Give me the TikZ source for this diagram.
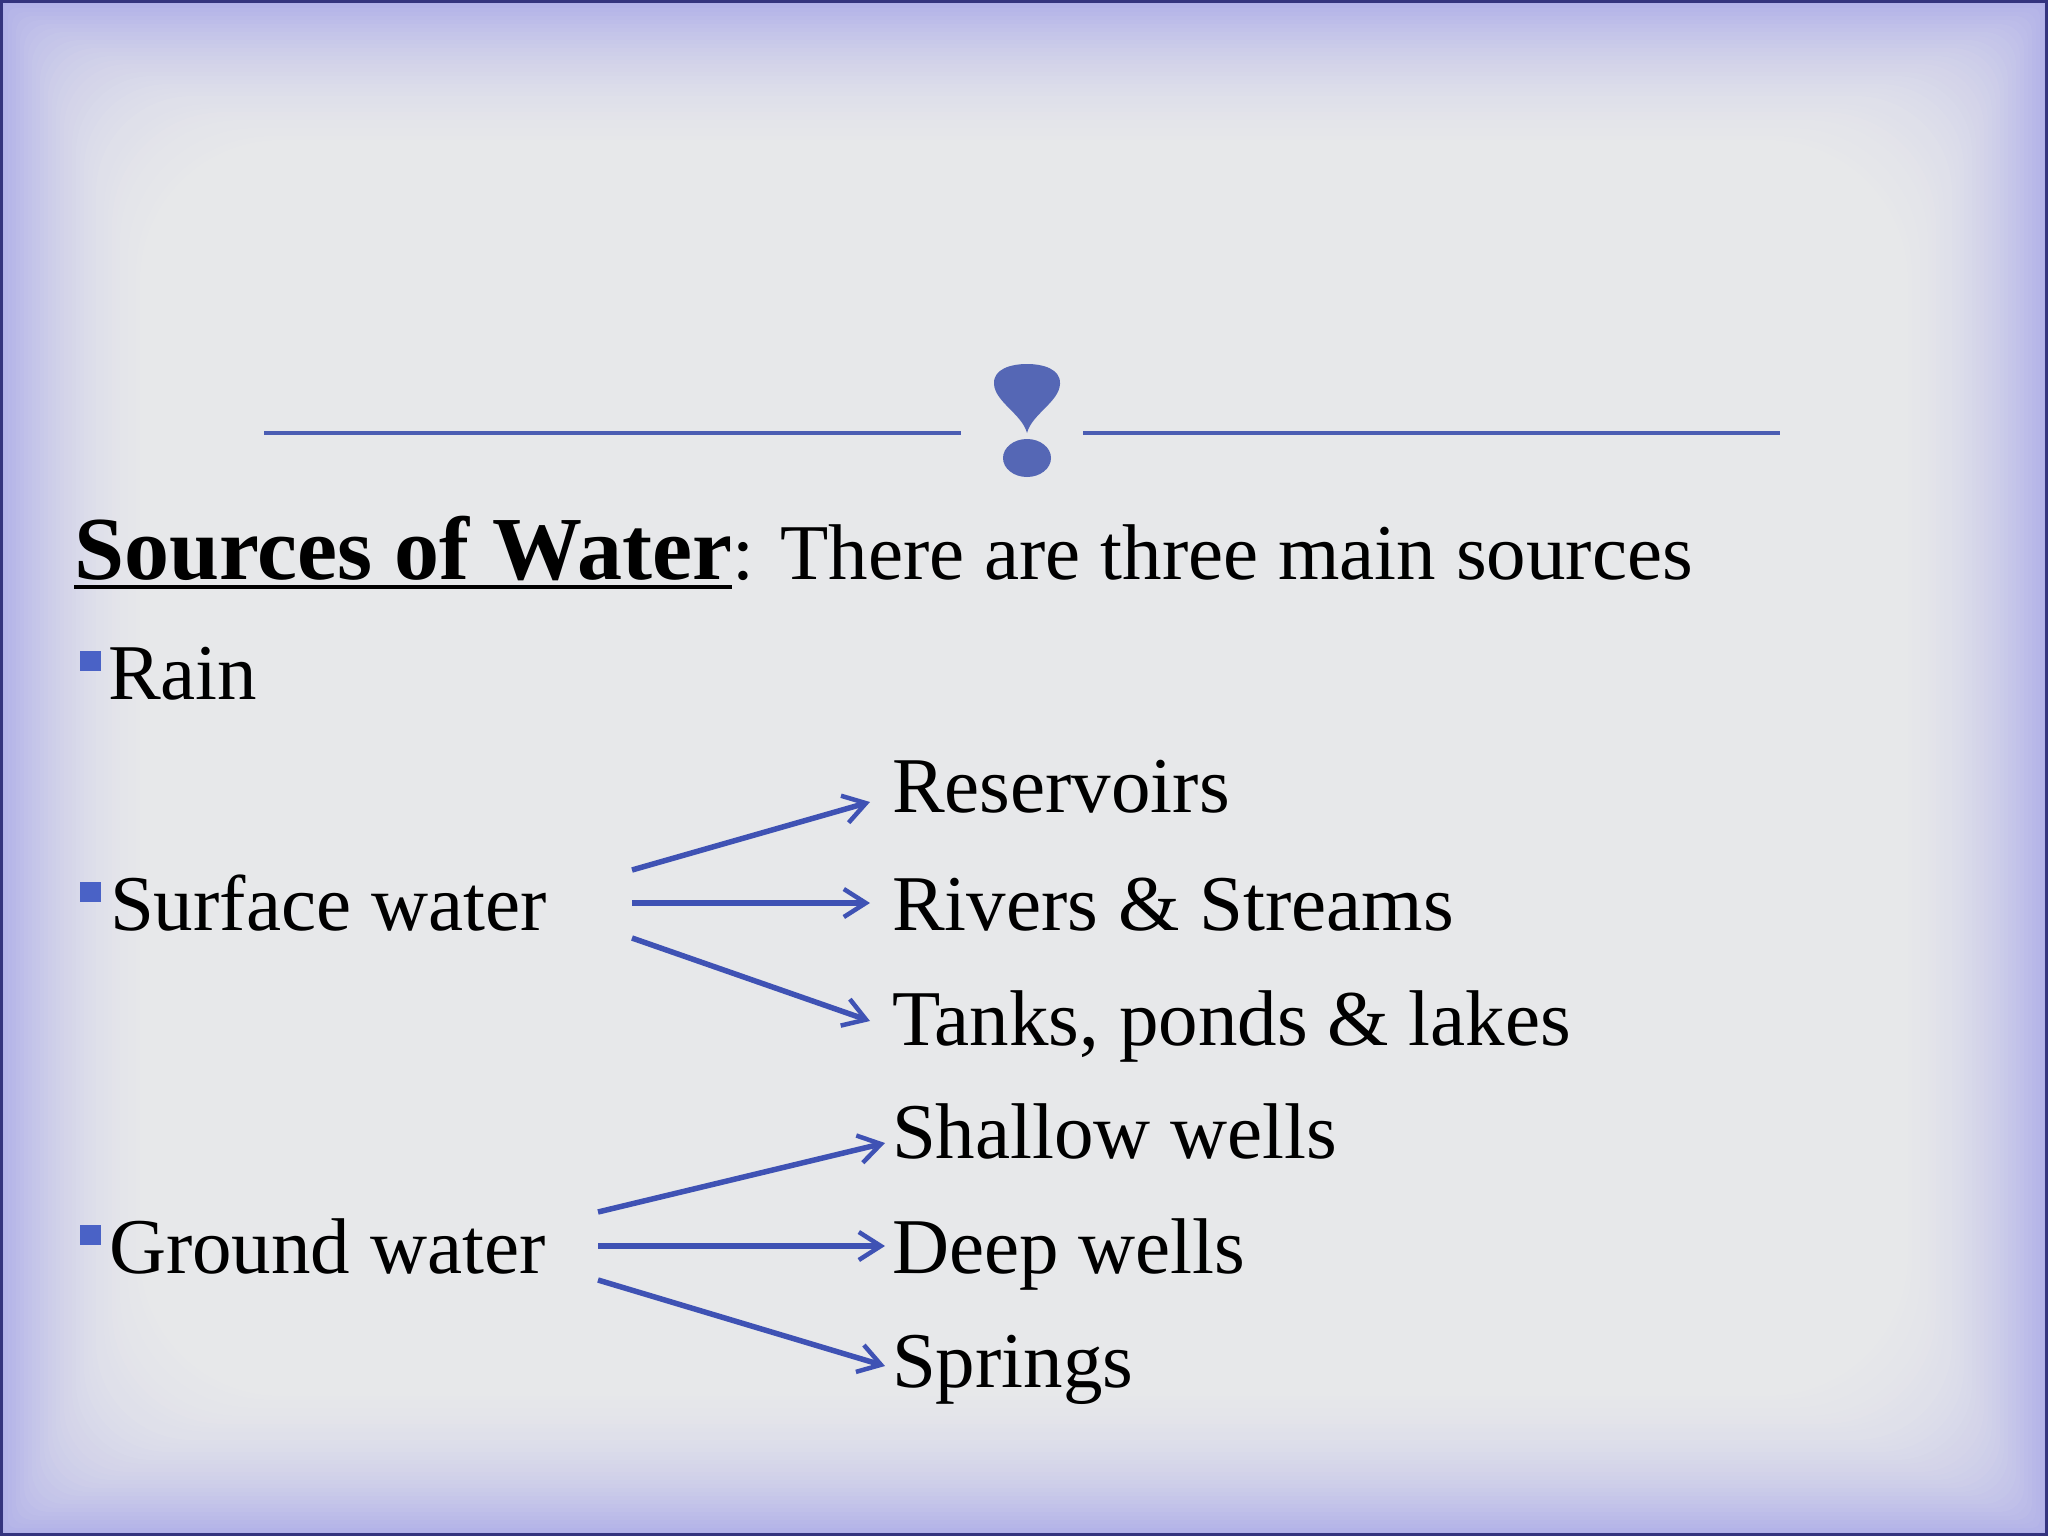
\documentclass[tikz,border=0pt]{standalone}
\usepackage{fontspec}
\setmainfont{Liberation Serif}
\usetikzlibrary{arrows.meta}
\definecolor{bgc}{HTML}{E7E8EA}
\definecolor{lav}{HTML}{B0B0E8}
\definecolor{framec}{HTML}{34347E}
\definecolor{orn}{HTML}{5567B5}
\definecolor{rulec}{HTML}{4B5DB3}
\definecolor{arrc}{HTML}{3F52B4}
\definecolor{bulc}{HTML}{4A62C6}
\tikzset{
  txt/.style={anchor=base west, inner sep=0pt, outer sep=0pt, font=\fontsize{79}{90}\selectfont},
  ttlb/.style={anchor=base west, inner sep=0pt, outer sep=0pt, font=\fontsize{90}{100}\selectfont\bfseries},
  bul/.style={fill=bulc, minimum width=21pt, minimum height=20pt, inner sep=0pt, outer sep=0pt},
  arr/.style={draw=arrc, line width=5.5pt, -{Straight Barb[length=22pt,width=28pt,line width=4.5pt]}},
  deco/.style={draw=rulec, line width=3.5pt},
}
\begin{document}
\begin{tikzpicture}[x=1pt,y=-1pt]
\useasboundingbox (0,0) rectangle (2048,1536);
% background
\fill[lav] (0,0) rectangle (2048,1536);
\foreach \i in {1,...,40}{
  \pgfmathtruncatemacro\p{100*((40-\i)/40)^2}
  \pgfmathsetmacro\d{\i*4}
  \fill[lav!\p!bgc, rounded corners=\d pt] (\d,\d) rectangle (2048-\d,1536-\d);
}
\draw[framec, line width=6pt] (0,0) rectangle (2048,1536);
% ornament
\coordinate (la) at (264,433); \coordinate (lb) at (961,433);
\coordinate (ra) at (1083,433); \coordinate (rb) at (1780,433);
\draw[deco] (la) -- (lb);
\draw[deco] (ra) -- (rb);
\fill[orn] (1027,433) .. controls (1022,414) and (995,402) .. (994,384)
  .. controls (993,369) and (1011,364) .. (1027,364)
  .. controls (1043,364) and (1061,369) .. (1060,384)
  .. controls (1059,402) and (1032,414) .. (1027,433) -- cycle;
\fill[orn] (1027,458) ellipse [x radius=24, y radius=19];
% title
\node[ttlb] (tb) at (74,579) {Sources of Water};
\node[txt] (tr) at (tb.base east) {: There are three main sources};
\draw[line width=4pt] ([yshift=-8pt]tb.base west) -- ([yshift=-8pt]tb.base east);
% bullets
\node[bul] (b1) at (90,661) {};
\node[txt] (rain) at (108,699) {Rain};
\node[bul] (b2) at (90,892) {};
\node[txt] (surf) at (110,930) {Surface water};
\node[bul] (b3) at (90,1235) {};
\node[txt] (grnd) at (109,1273) {Ground water};
% targets
\node[txt] (res) at (892,812) {Reservoirs};
\node[txt] (riv) at (892,930) {Rivers \& Streams};
\node[txt] (tan) at (892,1045) {Tanks, ponds \& lakes};
\node[txt] (sha) at (892,1158) {Shallow wells};
\node[txt] (dee) at (892,1273) {Deep wells};
\node[txt] (spr) at (892,1387) {Springs};
% arrow ends
\coordinate (s1) at (632,870); \coordinate (t1) at (870,802);
\coordinate (s2) at (632,903); \coordinate (t2) at (870,903);
\coordinate (s3) at (632,938); \coordinate (t3) at (870,1021);
\coordinate (g1) at (598,1212); \coordinate (u1) at (885,1143);
\coordinate (g2) at (598,1246); \coordinate (u2) at (885,1246);
\coordinate (g3) at (598,1280); \coordinate (u3) at (885,1366);
\draw[arr] (s1) -- (t1);
\draw[arr] (s2) -- (t2);
\draw[arr] (s3) -- (t3);
\draw[arr] (g1) -- (u1);
\draw[arr] (g2) -- (u2);
\draw[arr] (g3) -- (u3);
\end{tikzpicture}
\end{document}
